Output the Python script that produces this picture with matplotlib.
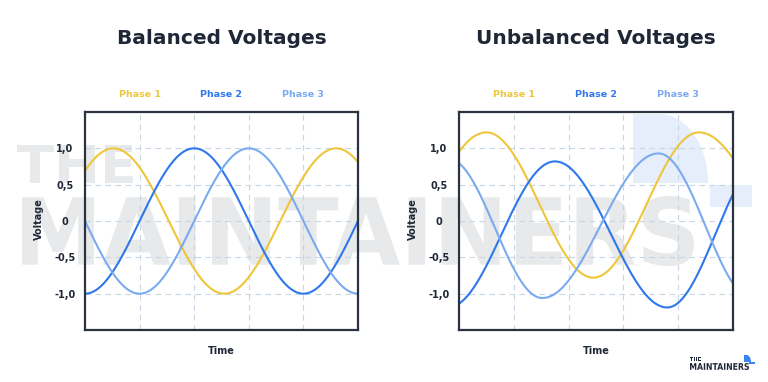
import numpy as np
import matplotlib
matplotlib.use("Agg")
import matplotlib.pyplot as plt
from matplotlib.textpath import TextPath
from matplotlib.patches import PathPatch, Polygon
from matplotlib.font_manager import FontProperties
from matplotlib.transforms import Affine2D

W, H = 768, 382

phase_names = ["Phase 1", "Phase 2", "Phase 3"]
phase_colors = ["#EEC63B", "#2F78EC", "#7BAAF0"]

ytick_vals = [-1.0, -0.5, 0.0, 0.5, 1.0]
ytick_labels = ["-1,0", "-0,5", "0", "0,5", "1,0"]

# peaks and troughs: time in grid cells (0..5), voltage
bal_p1_t = [-1.5, 0.52, 2.55, 4.6, 6.6]
bal_p1_v = [-1.0, 1.0, -1.0, 1.0, -1.0]
bal_p2_t = [0.0, 2.0, 4.0, 6.0]
bal_p2_v = [-1.0, 1.0, -1.0, 1.0]
bal_p3_t = [-1.0, 1.0, 3.0, 5.0]
bal_p3_v = [1.0, -1.0, 1.0, -1.0]

unb_p1_t = [-1.6, 0.5, 2.45, 4.38, 6.6]
unb_p1_v = [-0.78, 1.22, -0.78, 1.22, -0.78]
unb_p2_t = [-0.2, 1.75, 3.8, 5.55]
unb_p2_v = [-1.19, 0.82, -1.19, 0.82]
unb_p3_t = [-0.2, 1.52, 3.64, 5.35]
unb_p3_v = [0.86, -1.06, 0.93, -1.06]

text_color = "#1F2736"


def half_waves(knot_t, knot_v, t):
    # each stretch between a peak and a trough is half a cosine
    knot_t = np.asarray(knot_t)
    knot_v = np.asarray(knot_v)
    i = np.clip(np.searchsorted(knot_t, t) - 1, 0, len(knot_t) - 2)
    f = (t - knot_t[i]) / (knot_t[i + 1] - knot_t[i])
    return knot_v[i] + (knot_v[i + 1] - knot_v[i]) * (1 - np.cos(np.pi * f)) / 2


def px(x, y):
    return x / W, 1 - y / H


def fit_text(fig, s, x0, y0, x1, y1, color, z=-5):
    # draw text as a path stretched into a pixel box (y measured from top)
    tp = TextPath((0, 0), s, prop=FontProperties(family="DejaVu Sans", weight="bold"), size=100)
    ext = tp.get_extents()
    tr = (Affine2D().translate(-ext.x0, -ext.y0)
          .scale((x1 - x0) / ext.width / W, (y1 - y0) / ext.height / H)
          .translate(x0 / W, 1 - y1 / H))
    fig.patches.append(PathPatch(tr.transform_path(tp), facecolor=color, edgecolor="none",
                                 transform=fig.transFigure, zorder=z))


def sail(fig, x0, y0, x1, y1, color, z=-5):
    a = np.linspace(0, np.pi / 2, 40)
    cx = x0 + (x1 - x0) * 0.35
    pts = [(x0, y1), (x0, y0), (cx, y0)]
    pts += [(cx + (x1 - cx) * np.sin(v), y1 - (y1 - y0) * np.cos(v)) for v in a]
    pts = [px(x, y) for x, y in pts]
    fig.patches.append(Polygon(pts, closed=True, facecolor=color, edgecolor="none",
                               transform=fig.transFigure, zorder=z))


def bar(fig, x0, y0, x1, y1, color, z=-5):
    pts = [px(x0, y0), px(x1, y0), px(x1, y1), px(x0, y1)]
    fig.patches.append(Polygon(pts, closed=True, facecolor=color, edgecolor="none",
                               transform=fig.transFigure, zorder=z))


fig = plt.figure(figsize=(7.68, 3.82), dpi=100)
fig.patch.set_facecolor("white")

# watermark
fit_text(fig, "THE", 17, 145, 133, 183, "#E8E9EB")
fit_text(fig, "MAINTAINERS", 22, 196, 694, 266, "#E8E9EB")
sail(fig, 633, 114, 708, 183, "#E6EEFB")
bar(fig, 710, 185, 752, 207, "#E6EEFB")

panels = [
    ("Balanced Voltages", 85, 358,
     [(bal_p1_t, bal_p1_v), (bal_p2_t, bal_p2_v), (bal_p3_t, bal_p3_v)]),
    ("Unbalanced Voltages", 459, 733,
     [(unb_p1_t, unb_p1_v), (unb_p2_t, unb_p2_v), (unb_p3_t, unb_p3_v)]),
]

top, bottom = 112, 330
t = np.linspace(0, 5, 600)

for title, left, right, series in panels:
    ax = fig.add_axes([left / W, 1 - bottom / H, (right - left) / W, (bottom - top) / H])
    ax.set_facecolor("none")
    ax.set_xlim(0, 5)
    ax.set_ylim(-1.5, 1.5)
    ax.set_xticks([1, 2, 3, 4])
    ax.set_xticklabels([])
    ax.set_yticks(ytick_vals)
    ax.set_yticklabels(ytick_labels, ha="center", fontsize=7, fontweight="bold", color=text_color)
    ax.tick_params(axis="both", length=0)
    ax.tick_params(axis="y", pad=14.4)
    ax.grid(True, color="#C8D5E2", linestyle=(0, (5, 4)), linewidth=0.8)
    ax.set_axisbelow(True)
    for sp in ax.spines.values():
        sp.set_linewidth(1.6)
        sp.set_color("#2B3341")

    for (kt, kv), c in zip(series, phase_colors):
        ax.plot(t, half_waves(kt, kv, t), color=c, linewidth=1.5, solid_capstyle="butt")

    cx = (left + right) / 2
    fig.text(*px(cx, 44), title, ha="center", va="baseline", fontsize=14.5,
             fontweight="bold", color=text_color)
    for frac, name, c in zip([0.2, 0.5, 0.8], phase_names, phase_colors):
        fig.text(*px(left + frac * (right - left), 97), name, ha="center", va="baseline",
                 fontsize=6.8, fontweight="bold", color=c)
    fig.text(*px(cx, 354), "Time", ha="center", va="baseline", fontsize=7,
             fontweight="bold", color=text_color)
    fig.text(*px(left - 46, 219), "Voltage", ha="center", va="center", rotation=90,
             fontsize=7, fontweight="bold", color=text_color)

# small logo bottom right
fit_text(fig, "THE", 690, 357, 701, 361, text_color, z=5)
fit_text(fig, "MAINTAINERS", 690, 363, 749, 370, text_color, z=5)
sail(fig, 744, 355, 751, 362, "#3B82F6", z=5)
bar(fig, 749, 362, 755, 364, "#3B82F6", z=5)

fig.savefig("out.png", dpi=100, facecolor="white")
